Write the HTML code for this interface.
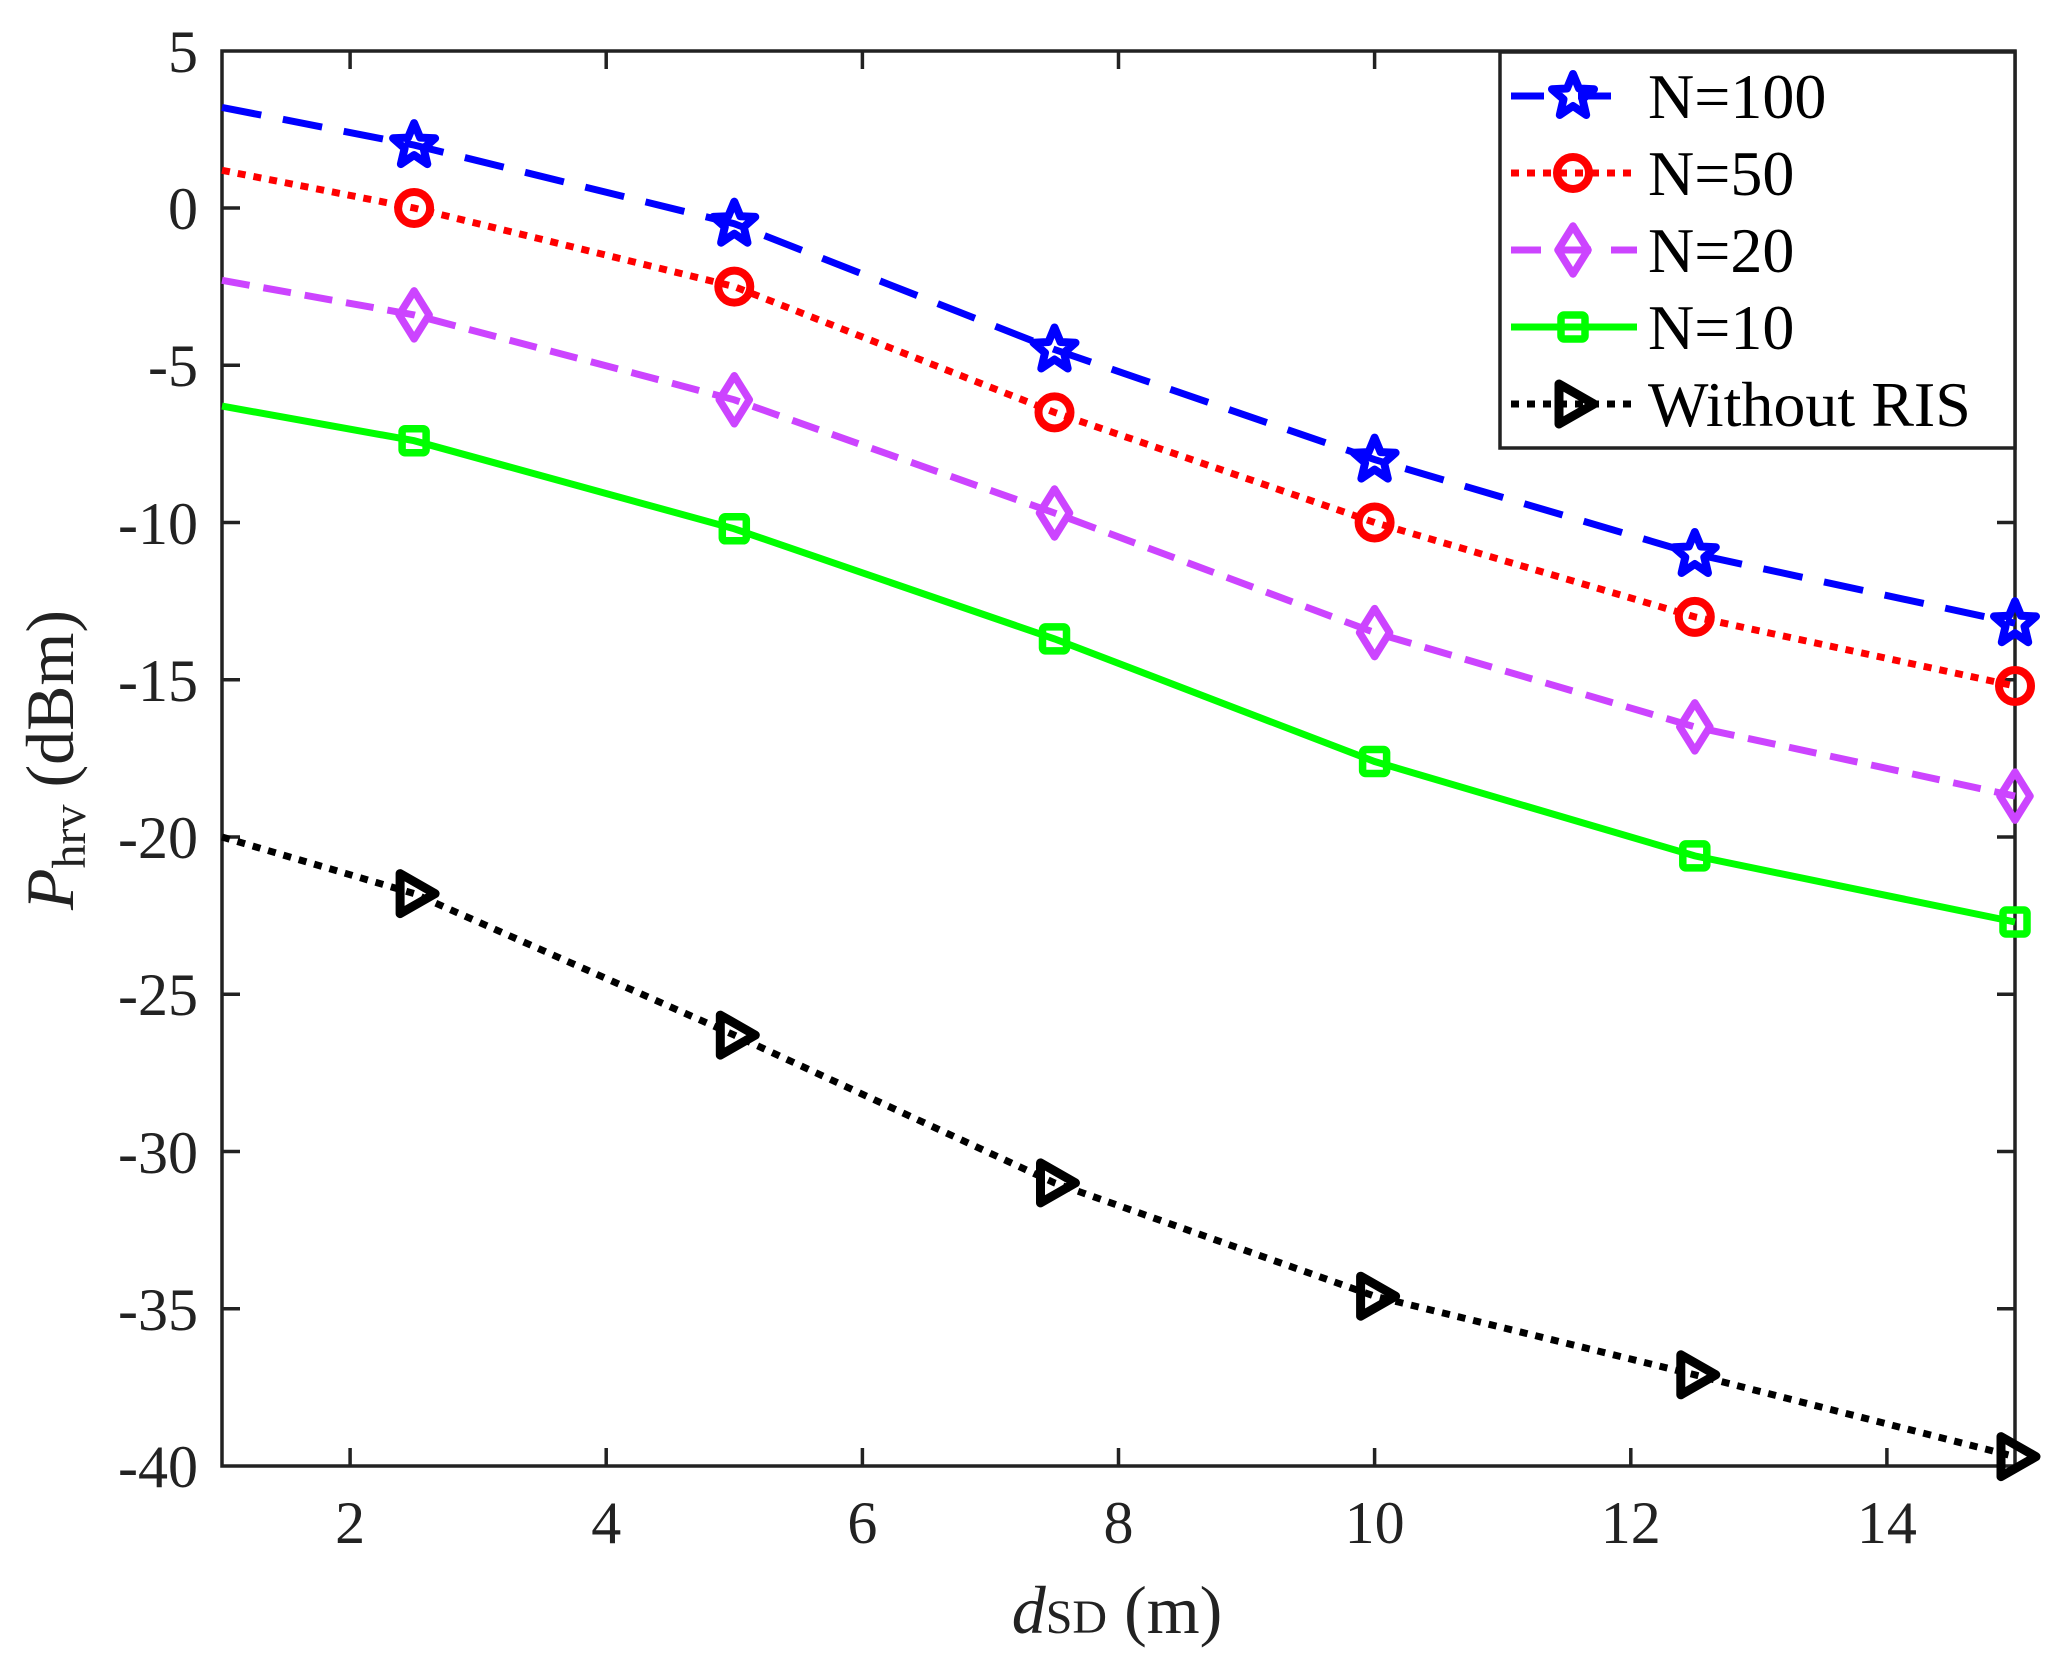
<!DOCTYPE html>
<html><head><meta charset="utf-8"><style>
html,body{margin:0;padding:0;background:#fff;}
svg{display:block;font-family:"Liberation Serif",serif;}
</style></head><body>
<svg width="2064" height="1672" viewBox="0 0 2064 1672" xmlns="http://www.w3.org/2000/svg">
<defs>
<g id="star"><polygon points="0,-22 6,-7.5 21,-6.8 9.5,3.3 13.2,19 0,10 -13.2,19 -9.5,3.3 -21,-6.8 -6,-7.5" fill="none" stroke="#0000ff" stroke-width="8" stroke-linejoin="round"/></g>
<g id="circ"><circle r="16" fill="none" stroke="#ff0000" stroke-width="8"/></g>
<g id="diam"><polygon points="0,-24 15,0 0,24 -15,0" fill="none" stroke="#cc44ff" stroke-width="7.5" stroke-linejoin="round"/></g>
<g id="sq"><rect x="-12" y="-12" width="24" height="24" rx="3" fill="none" stroke="#00ff00" stroke-width="7.5"/></g>
<g id="tri"><polygon points="-14,-20 21,0 -14,20" fill="none" stroke="#000" stroke-width="9" stroke-linejoin="round"/></g>
</defs>
<rect x="222" y="51" width="1793" height="1415" fill="none" stroke="#222" stroke-width="3.5"/>
<g stroke="#222" stroke-width="3.5">
<line x1="350.1" y1="1466" x2="350.1" y2="1448"/><line x1="350.1" y1="51" x2="350.1" y2="69"/>
<line x1="606.2" y1="1466" x2="606.2" y2="1448"/><line x1="606.2" y1="51" x2="606.2" y2="69"/>
<line x1="862.4" y1="1466" x2="862.4" y2="1448"/><line x1="862.4" y1="51" x2="862.4" y2="69"/>
<line x1="1118.5" y1="1466" x2="1118.5" y2="1448"/><line x1="1118.5" y1="51" x2="1118.5" y2="69"/>
<line x1="1374.6" y1="1466" x2="1374.6" y2="1448"/><line x1="1374.6" y1="51" x2="1374.6" y2="69"/>
<line x1="1630.8" y1="1466" x2="1630.8" y2="1448"/><line x1="1630.8" y1="51" x2="1630.8" y2="69"/>
<line x1="1886.9" y1="1466" x2="1886.9" y2="1448"/><line x1="1886.9" y1="51" x2="1886.9" y2="69"/>
<line x1="222" y1="208" x2="240" y2="208"/><line x1="2015" y1="208" x2="1997" y2="208"/>
<line x1="222" y1="365.3" x2="240" y2="365.3"/><line x1="2015" y1="365.3" x2="1997" y2="365.3"/>
<line x1="222" y1="522.5" x2="240" y2="522.5"/><line x1="2015" y1="522.5" x2="1997" y2="522.5"/>
<line x1="222" y1="679.8" x2="240" y2="679.8"/><line x1="2015" y1="679.8" x2="1997" y2="679.8"/>
<line x1="222" y1="837" x2="240" y2="837"/><line x1="2015" y1="837" x2="1997" y2="837"/>
<line x1="222" y1="994.3" x2="240" y2="994.3"/><line x1="2015" y1="994.3" x2="1997" y2="994.3"/>
<line x1="222" y1="1151.5" x2="240" y2="1151.5"/><line x1="2015" y1="1151.5" x2="1997" y2="1151.5"/>
<line x1="222" y1="1308.8" x2="240" y2="1308.8"/><line x1="2015" y1="1308.8" x2="1997" y2="1308.8"/>
</g>
<g font-size="60" fill="#222" text-anchor="end">
<text x="198" y="72">5</text>
<text x="198" y="229">0</text>
<text x="198" y="386">-5</text>
<text x="198" y="544">-10</text>
<text x="198" y="701">-15</text>
<text x="198" y="858">-20</text>
<text x="198" y="1015">-25</text>
<text x="198" y="1173">-30</text>
<text x="198" y="1330">-35</text>
<text x="198" y="1487">-40</text>
</g>
<g font-size="60" fill="#222" text-anchor="middle">
<text x="350.1" y="1543">2</text>
<text x="606.2" y="1543">4</text>
<text x="862.4" y="1543">6</text>
<text x="1118.5" y="1543">8</text>
<text x="1374.6" y="1543">10</text>
<text x="1630.8" y="1543">12</text>
<text x="1886.9" y="1543">14</text>
</g>
<text x="1117" y="1633" font-size="68" fill="#222" text-anchor="middle"><tspan font-style="italic">d</tspan><tspan font-size="48">SD</tspan> (m)</text>
<text transform="translate(73,760) rotate(-90)" font-size="68" fill="#222" text-anchor="middle"><tspan font-style="italic">P</tspan><tspan font-size="48" dy="12">hrv</tspan><tspan dy="-12"> (dBm)</tspan></text>

<g fill="none" stroke-width="7">
<polyline stroke="#0000ff" stroke-dasharray="40 22" points="222,107.4 414.1,145.1 734.3,223.7 1054.5,349.5 1374.6,459.6 1694.8,554 2015,623.2"/>
<polyline stroke="#ff0000" stroke-dasharray="8 8" points="222,170.3 414.1,208 734.3,286.6 1054.5,412.4 1374.6,522.5 1694.8,616.9 2015,686"/>
<polyline stroke="#cc44ff" stroke-dasharray="28 14" points="222,280.3 414.1,314.9 734.3,399.8 1054.5,513 1374.6,632.6 1694.8,726.9 2015,796.1"/>
<polyline stroke="#00ff00" points="222,406.1 414.1,440.7 734.3,528.8 1054.5,638.9 1374.6,761.5 1694.8,855.9 2015,922"/>
<polyline stroke="#000" stroke-dasharray="8 8" points="222,837 414.1,893.6 734.3,1035.1 1054.5,1182.9 1374.6,1296.2 1694.8,1374.8 2015,1456.6"/>
</g>
<use href="#star" x="414.1" y="145.1"/><use href="#star" x="734.3" y="223.7"/><use href="#star" x="1054.5" y="349.5"/><use href="#star" x="1374.6" y="459.6"/><use href="#star" x="1694.8" y="554"/><use href="#star" x="2015" y="623.2"/>
<use href="#circ" x="414.1" y="208"/><use href="#circ" x="734.3" y="286.6"/><use href="#circ" x="1054.5" y="412.4"/><use href="#circ" x="1374.6" y="522.5"/><use href="#circ" x="1694.8" y="616.9"/><use href="#circ" x="2015" y="686"/>
<use href="#diam" x="414.1" y="314.9"/><use href="#diam" x="734.3" y="399.8"/><use href="#diam" x="1054.5" y="513"/><use href="#diam" x="1374.6" y="632.6"/><use href="#diam" x="1694.8" y="726.9"/><use href="#diam" x="2015" y="796.1"/>
<use href="#sq" x="414.1" y="440.7"/><use href="#sq" x="734.3" y="528.8"/><use href="#sq" x="1054.5" y="638.9"/><use href="#sq" x="1374.6" y="761.5"/><use href="#sq" x="1694.8" y="855.9"/><use href="#sq" x="2015" y="922"/>
<use href="#tri" x="414.1" y="893.6"/><use href="#tri" x="734.3" y="1035.1"/><use href="#tri" x="1054.5" y="1182.9"/><use href="#tri" x="1374.6" y="1296.2"/><use href="#tri" x="1694.8" y="1374.8"/><use href="#tri" x="2015" y="1456.6"/>

<rect x="1500" y="52" width="515" height="396" fill="#fff" stroke="#222" stroke-width="3.5"/>
<g fill="none" stroke-width="7">
<line x1="1511" y1="96" x2="1637" y2="96" stroke="#0000ff" stroke-dasharray="33 34"/>
<line x1="1511" y1="173" x2="1637" y2="173" stroke="#ff0000" stroke-dasharray="8 8"/>
<line x1="1511" y1="250" x2="1637" y2="250" stroke="#cc44ff" stroke-dasharray="30 20"/>
<line x1="1511" y1="327" x2="1637" y2="327" stroke="#00ff00"/>
<line x1="1511" y1="404" x2="1637" y2="404" stroke="#000" stroke-dasharray="8 8"/>
</g>
<use href="#star" x="1573" y="96"/>
<use href="#circ" x="1573" y="173"/>
<use href="#diam" x="1573" y="250"/>
<use href="#sq" x="1573" y="327"/>
<use href="#tri" x="1573" y="404"/>
<g font-size="64" fill="#000">
<text x="1648" y="118">N=100</text>
<text x="1648" y="195">N=50</text>
<text x="1648" y="272">N=20</text>
<text x="1648" y="349">N=10</text>
<text x="1648" y="426">Without RIS</text>
</g>
</svg>
</body></html>
